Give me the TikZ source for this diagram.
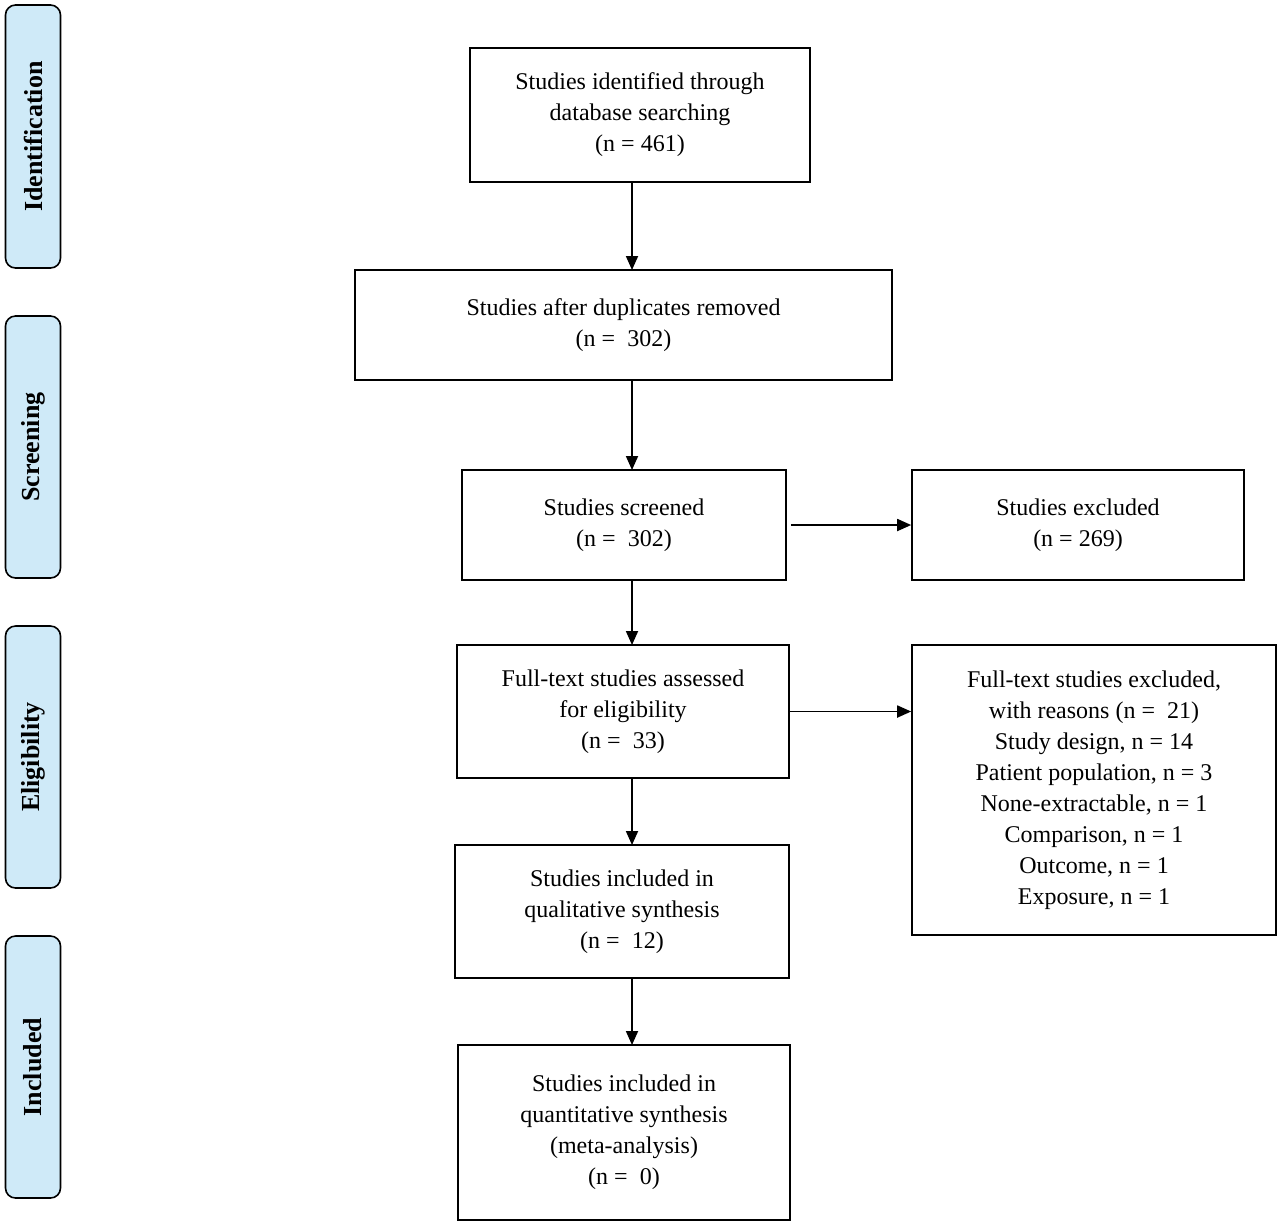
\documentclass[tikz,border=0pt]{standalone}
\usepackage{fontspec}
\setmainfont{Liberation Serif}
\usetikzlibrary{arrows.meta}
\begin{document}
\begin{tikzpicture}[x=0.5pt,y=-0.5pt,
  box/.style={draw,line width=0.8pt,align=center,font=\fontsize{12}{15.5}\selectfont,inner sep=0pt},
  side/.style={draw,line width=0.8pt,fill=sidebg,rounded corners=5pt,inner sep=0pt},
  arr/.style={line width=0.9pt,-{Triangle[length=7pt,width=6pt]}}]
\definecolor{sidebg}{HTML}{CFEAF8}
\useasboundingbox (0,0) rectangle (1280,1223);
% side labels
\foreach \n/\t/\a/\b in {s1/Identification/5/268,s2/Screening/316/578,s3/Eligibility/626/888,s4/Included/936/1198}{
  \node[side,minimum width=27.5pt,minimum height={(\b-\a)*0.5pt}] (\n) at (33,{(\a+\b)/2}) {};
  \node[rotate=90,font=\fontsize{13}{15}\selectfont\bfseries] at (\n) {\t};
}
\node[box,minimum width=170pt,minimum height=67pt] (A) at (640,115) {Studies identified through\\database searching\\(n = 461)};
\node[box,minimum width=268.5pt,minimum height=55pt] (B) at (623.5,325) {Studies after duplicates removed\\(n =\ \ 302)};
\node[box,minimum width=162pt,minimum height=55pt] (C) at (624,525) {Studies screened\\(n =\ \ 302)};
\node[box,minimum width=166pt,minimum height=55pt] (D) at (1078,525) {Studies excluded\\(n = 269)};
\node[box,minimum width=166pt,minimum height=66.5pt] (E) at (623,711.5) {Full-text studies assessed\\for eligibility\\(n =\ \ 33)};
\node[box,minimum width=182pt,minimum height=145pt] (F) at (1094,790) {Full-text studies excluded,\\with reasons (n =\ \ 21)\\Study design, n = 14\\Patient population, n = 3\\None-extractable, n = 1\\Comparison, n = 1\\Outcome, n = 1\\Exposure, n = 1};
\node[box,minimum width=167pt,minimum height=66.5pt] (G) at (622,911.5) {Studies included in\\qualitative synthesis\\(n =\ \ 12)};
\node[box,minimum width=166pt,minimum height=87.5pt] (H) at (624,1132.5) {Studies included in\\quantitative synthesis\\(meta-analysis)\\(n =\ \ 0)};
\draw[arr] (A.south -| 632,0) -- (632,270);
\draw[arr] (632,380) -- (632,470);
\draw[arr] (632,580) -- (632,645);
\draw[arr] (632,778) -- (632,845);
\draw[arr] (632,978) -- (632,1045);
\draw[arr] ([xshift=2pt]C.east) -- (D.west);
\draw[arr] (E.east) -- (E.east -| F.west);
\end{tikzpicture}
\end{document}
